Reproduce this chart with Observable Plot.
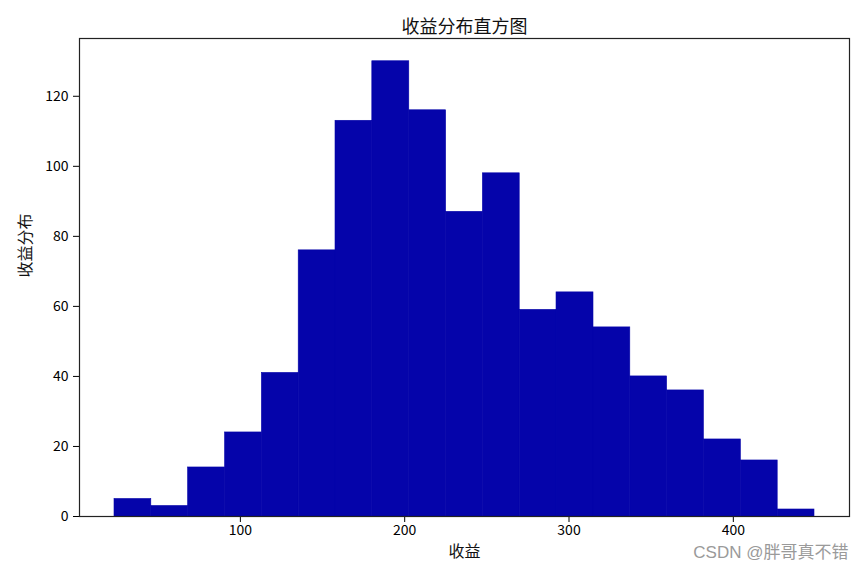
<!DOCTYPE html>
<html>
<head>
<meta charset="utf-8">
<script src="https://cdn.jsdelivr.net/npm/d3@7"></script>
<script src="https://cdn.jsdelivr.net/npm/@observablehq/plot@0.6"></script>
<style>
  html, body { margin: 0; padding: 0; background: #fff; }
  #chart { width: 865px; height: 574px; }
</style>
</head>
<body>
<div id="chart"></div>
<script>
const binEdges = [23.4, 45.8, 68.2, 90.7, 113.1, 135.5, 157.9, 180.3, 202.8, 225.2,
                  247.6, 270.0, 292.4, 314.9, 337.3, 359.7, 382.1, 404.6, 427.0, 449.4];
const counts = [5, 3, 14, 24, 41, 76, 113, 130, 116, 87, 98, 59, 64, 54, 40, 36, 22, 16, 2];
const xTicks = [100, 200, 300, 400];
const yTicks = [0, 20, 40, 60, 80, 100, 120];
const title = "收益分布直方图";
const xLabel = "收益";
const yLabel = "收益分布";
const watermark = "CSDN @胖哥真不错";

const bins = counts.map((c, i) => ({x1: binEdges[i], x2: binEdges[i + 1], y: c}));

const font = "'Noto Sans CJK SC', 'Noto Sans', sans-serif";

const chart = Plot.plot({
  width: 865,
  height: 574,
  marginLeft: 79,
  marginRight: 16,
  marginTop: 38,
  marginBottom: 58,
  style: {fontFamily: font, fontSize: "14px", color: "#000", background: "#fff"},
  x: {domain: [2.1, 470.7], ticks: xTicks, tickSize: 6, tickPadding: 4, label: null},
  y: {domain: [0, 136.5], ticks: yTicks, tickSize: 6, tickPadding: 4, label: null},
  marks: [
    Plot.rectY(bins, {x1: "x1", x2: "x2", y: "y", fill: "#0504aa", stroke: "#0504aa", strokeWidth: 0.6}),
    Plot.axisX({ticks: xTicks, tickSize: 6, tickPadding: 3, stroke: "#000", fontSize: 14}),
    Plot.axisY({ticks: yTicks, tickSize: 6, tickPadding: 5, stroke: "#000", fontSize: 14}),
    Plot.frame({stroke: "#222", strokeWidth: 1.2}),
    Plot.text([title], {frameAnchor: "top", dy: -18, fontSize: 18, fill: "#111"}),
    Plot.text([xLabel], {frameAnchor: "bottom", dy: 40, fontSize: 16, fill: "#111"}),
    Plot.text([yLabel], {frameAnchor: "left", dx: -54, rotate: -90, fontSize: 16, fill: "#111"}),
    Plot.text([watermark], {frameAnchor: "bottom-right", dx: -1, dy: 41, textAnchor: "end", fontSize: 17,
      fontFamily: "'Liberation Sans', 'Noto Sans CJK SC', sans-serif", letterSpacing: "0.8px", fill: "#9a9a9a"})
  ]
});
document.getElementById("chart").appendChild(chart);
</script>
</body>
</html>
